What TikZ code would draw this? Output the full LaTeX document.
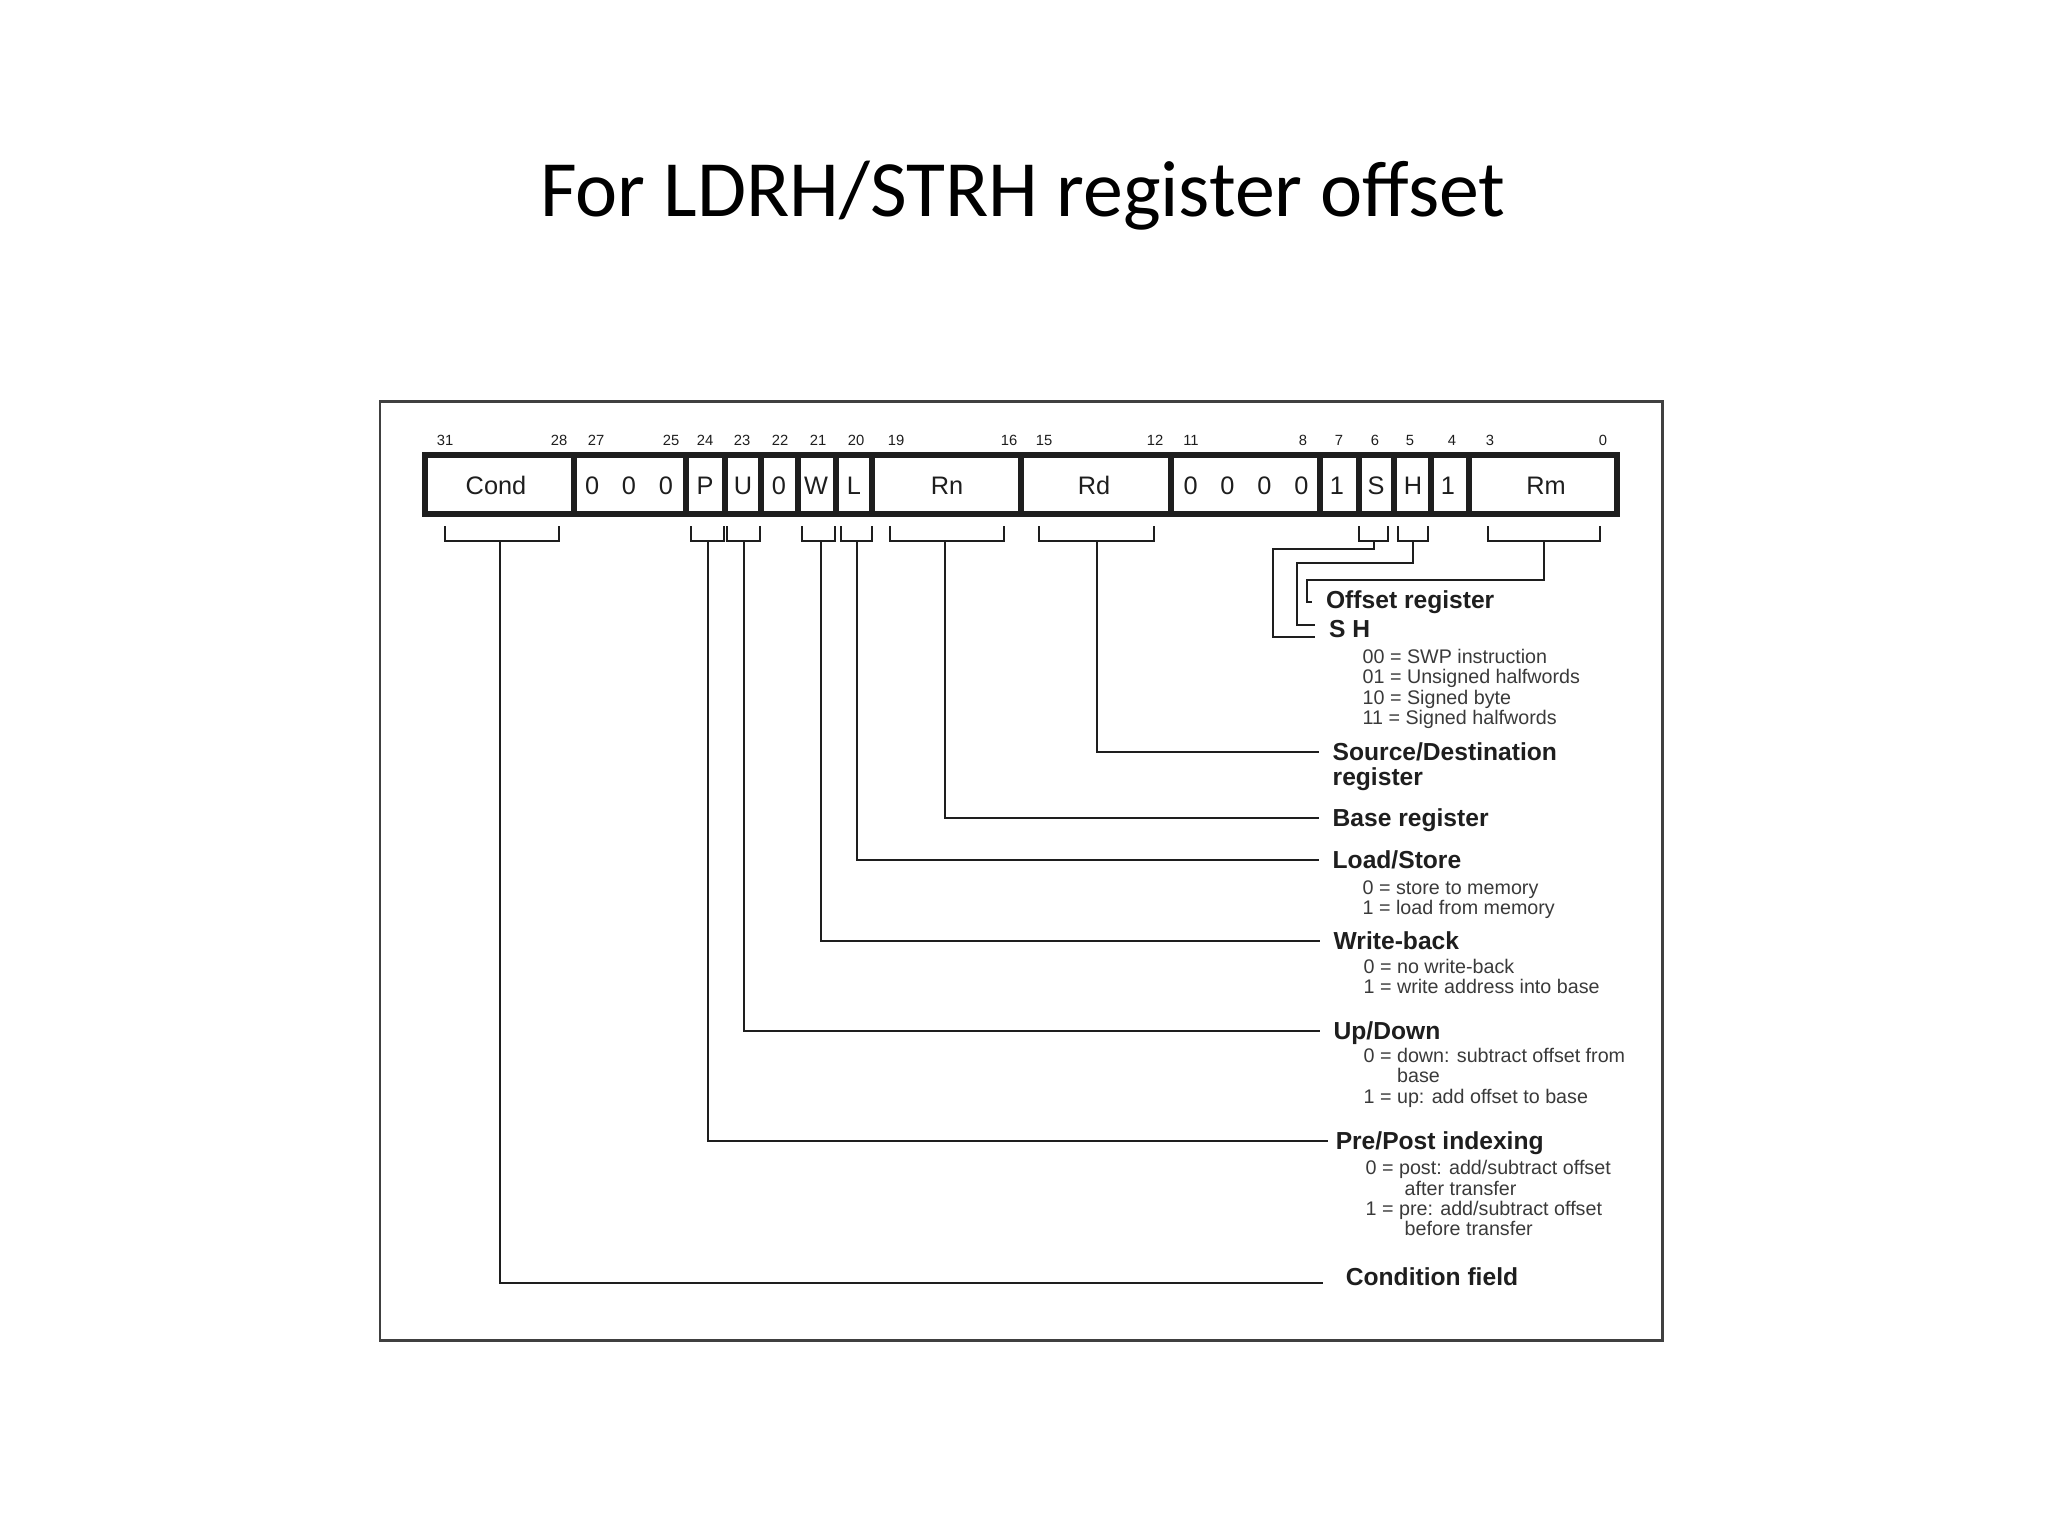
\documentclass[tikz,border=0pt]{standalone}
\usepackage{fontspec}
\setmainfont{Liberation Sans}
\newfontfamily\titlefont{Carlito}
\usetikzlibrary{calc}
\definecolor{ink}{HTML}{1E1E1E}
\definecolor{desc}{HTML}{3A3A3A}
\definecolor{framec}{HTML}{404040}
\begin{document}
\begin{tikzpicture}[x=0.01cm,y=-0.01cm,
  cell/.style={font=\fontsize{7.2}{8}\selectfont, text=ink, inner sep=0pt, text height=5.15pt, text depth=0pt},
  bitn/.style={font=\fontsize{4.2}{5}\selectfont, text=ink, inner sep=0pt, anchor=base},
  lbl/.style={font=\fontsize{7}{8}\selectfont\bfseries, text=ink, anchor=west, inner ysep=0pt, inner xsep=3.8pt, text height=5pt, text depth=0pt},
  dsc/.style={font=\fontsize{5.6}{5.69}\selectfont, text=desc, anchor=north west, inner sep=0pt, align=left},
  conn/.style={draw=ink, line width=0.7pt},
  brk/.style={draw=ink, line width=0.7pt},
  regbox/.style={draw=ink, line width=1.7pt},
  divider/.style={draw=ink, line width=1.5pt},
  framebox/.style={draw=framec, line width=0.85pt}]
\useasboundingbox[fill=white] (0,0) rectangle (2048,1536);

% title
\node[font=\titlefont\fontsize{22.7}{27}\selectfont, anchor=base, inner sep=0pt] (title) at (1023,216) {For LDRH/STRH register offset};

% outer frame
\draw[framebox] (380,401) rectangle (1662,1340);

% register box
\draw[regbox] (425,455) rectangle (1617,514);
\foreach \x in {574,686,725,761,798,836,872,1021,1171,1320,1359,1394,1431,1469}
  \draw[divider] (\x,455) -- (\x,514);

% bit numbers
\foreach \n/\x in {31/445,28/559,27/596,25/671,24/705,23/742,22/780,21/818,20/856,19/896,16/1009,15/1044,12/1155,11/1191,8/1303,7/1339,6/1375,5/1410,4/1452,3/1490,0/1603}
  \node[bitn] (n\n) at (\x,445) {\n};

% cell contents
\node[cell] (cCond) at (496,485) {Cond};
\node[cell] (cZa) at (629,485) {0\hspace{6.5pt}0\hspace{6.5pt}0};
\node[cell] (cP) at (705,485) {P};
\node[cell] (cU) at (743,485) {U};
\node[cell] (cZb) at (779,485) {0};
\node[cell] (cW) at (816,485) {W};
\node[cell] (cL) at (854,485) {L};
\node[cell] (cRn) at (947,485) {Rn};
\node[cell] (cRd) at (1094,485) {Rd};
\node[cell] (cZc) at (1246,485) {0\hspace{6.5pt}0\hspace{6.5pt}0\hspace{6.5pt}0};
\node[cell] (cOa) at (1337,485) {1};
\node[cell] (cS) at (1376,485) {S};
\node[cell] (cH) at (1413,485) {H};
\node[cell] (cOb) at (1448,485) {1};
\node[cell] (cRm) at (1546,485) {Rm};

% brackets
\foreach \a/\b in {445/559,691/724,727/760,802/835,841/872,890/1004,1039/1154,1359/1388,1398/1428,1488/1600}
  \draw[brk] (\a,526) |- (\b,541) -- (\b,526);

% bracket stems
\coordinate (bCond) at (500,541);
\coordinate (bP) at (708,541);
\coordinate (bU) at (744,541);
\coordinate (bW) at (821,541);
\coordinate (bL) at (857,541);
\coordinate (bRn) at (945,541);
\coordinate (bRd) at (1097,541);
\coordinate (bS) at (1374,541);
\coordinate (bH) at (1413,541);
\coordinate (bRm) at (1544,541);

% labels
\node[lbl] (lOff) at (1312,600) {Offset register};
\node[lbl] (lSH) at (1315,629) {S H};
\node[dsc] (dSH) at (1362,649) {00 = SWP instruction\\01 = Unsigned halfwords\\10 = Signed byte\\11 = Signed halfwords};
\node[lbl] (lSD) at (1318.6,752) {Source/Destination};
\node[lbl] (lSDb) at (1318.6,777) {register};
\node[lbl] (lBase) at (1318.6,818) {Base register};
\node[lbl] (lLS) at (1318.6,860) {Load/Store};
\node[dsc] (dLS) at (1362,880) {0 = store to memory\\1 = load from memory};
\node[lbl] (lW) at (1319.6,941) {Write-back};
\node[dsc] (dW) at (1363,959) {0 = no write-back\\1 = write address into base};
\node[lbl] (lU) at (1319.6,1031) {Up/Down};
\node[dsc] (dU) at (1363,1048) {0 = down: subtract offset from\\\phantom{0 = }base\\1 = up: add offset to base};
\node[lbl, inner xsep=2pt] (lPre) at (1328,1141) {Pre/Post indexing};
\node[dsc] (dP) at (1365,1160) {0 = post: add/subtract offset\\\phantom{0 = }\hspace{1.6pt}after transfer\\1 = pre: add/subtract offset\\\phantom{0 = }\hspace{1.6pt}before transfer};
\node[lbl, inner xsep=6.3pt] (lCond) at (1323,1277) {Condition field};

% connectors
\draw[conn] (bCond) |- ($(lCond.west)+(0,6)$);
\draw[conn] (bP) |- (lPre.west);
\draw[conn] (bU) |- (lU.west);
\draw[conn] (bW) |- (lW.west);
\draw[conn] (bL) |- (lLS.west);
\draw[conn] (bRn) |- (lBase.west);
\draw[conn] (bRd) |- (lSD.west);
\draw[conn] (bS) -- ++(0,8) -- ++(-101,0) |- ($(lSH.west)+(0,8)$);
\draw[conn] (bH) -- ++(0,22) -- ++(-116,0) |- ($(lSH.west)+(0,-4)$);
\draw[conn] (bRm) -- ++(0,39) -| ($(lOff.west)+(-5,2)$) -- ($(lOff.west)+(0,2)$);
\end{tikzpicture}
\end{document}
